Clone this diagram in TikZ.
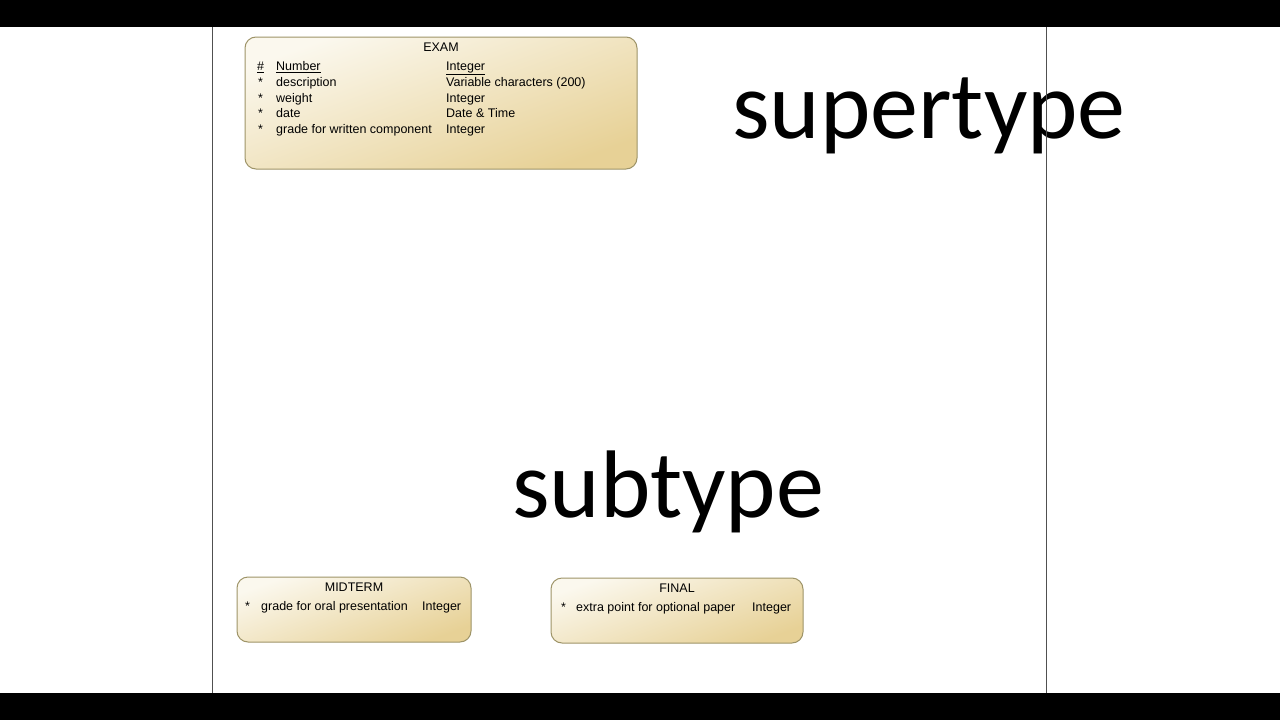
\documentclass[tikz,border=0pt]{standalone}
\usepackage{fontspec}
\setmainfont{Liberation Sans}
\newfontfamily\bigfont{Carlito}
\usetikzlibrary{positioning}

\definecolor{boxlight}{HTML}{FBF8EE}
\definecolor{boxdark}{HTML}{E7D196}
\definecolor{boxline}{HTML}{9E9468}
\definecolor{pageline}{HTML}{505050}

\tikzset{
	entity/.style={draw=boxline, line width=1pt, rounded corners=11pt,
		top color=boxlight, bottom color=boxdark, shading angle=20},
	attr/.style={anchor=base west, inner sep=0pt, font=\fontsize{12.5}{14}\selectfont},
	title/.style={anchor=base, inner sep=0pt, font=\fontsize{12.5}{14}\selectfont},
	bigword/.style={anchor=base west, inner sep=0pt, font=\bigfont\fontsize{96}{100}\selectfont}
}

\begin{document}
\begin{tikzpicture}[x=1pt,y=-1pt]

		\useasboundingbox (0,0) rectangle (1280,720);
		\fill[white] (0,0) rectangle (1280,720);
		\fill[black] (0,0) rectangle (1280,27);
		\fill[black] (0,693) rectangle (1280,720);
		
		% entities
		\shade[entity] (245,37) rectangle (637,169);
		\shade[entity] (237,577) rectangle (471,642);
		\shade[entity] (551,578) rectangle (803,643);
		
		\node[title] (exam) at (441,51.5) {EXAM};
		\node[attr] (examk) at (257,70.5) {\underline{\#}};
		\node[attr] (examkn) at (276,70.5) {\underline{Number}};
		\node[attr] (examkt) at (446,70.5) {\underline{Integer}};
		\foreach \name/\type [count=\i] in {description/Variable characters (200),
				weight/Integer, date/Date \& Time, grade for written component/Integer} {
			\node[attr] (exams\i) at (258,70.5+15.75*\i) {*};
			\node[attr] (examn\i) at (276,70.5+15.75*\i) {\name};
			\node[attr] (examt\i) at (446,70.5+15.75*\i) {\type};
		}
		
		\node[title] (mid) at (354,591.5) {MIDTERM};
		\node[attr] (mids) at (245,610.5) {*};
		\node[attr] (midn) at (261,610.5) {grade for oral presentation};
		\node[attr] (midt) at (422,610.5) {Integer};
		
		\node[title] (fin) at (677,592.5) {FINAL};
		\node[attr] (fins) at (561,611.5) {*};
		\node[attr] (finn) at (576,611.5) {extra point for optional paper};
		\node[attr] (fint) at (752,611.5) {Integer};
		
		% labels
		\node[bigword] (super) at (732,138) {supertype};
		\node[bigword] (sub) at (512,517) {subtype};
		
		% page edges
		\draw[pageline, line width=1pt] (212,27) -- (212,693);
		\draw[pageline, line width=1pt] (1046,27) -- (1046,693);
		
\end{tikzpicture}
\end{document}
